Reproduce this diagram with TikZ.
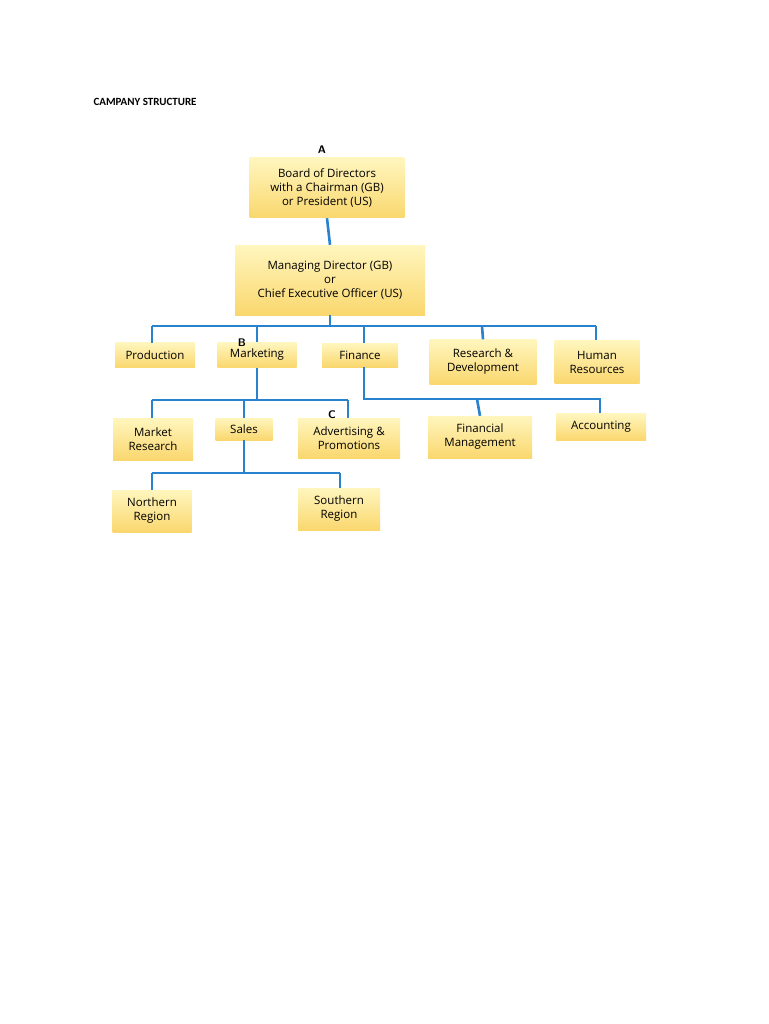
\documentclass[tikz,border=0pt]{standalone}
\usepackage{fontspec}
\setmainfont{Open Sans}
\newfontfamily\titlefont{Carlito}
\definecolor{lineblue}{RGB}{40,130,205}
\definecolor{boxtop}{RGB}{255,246,190}
\definecolor{boxbot}{RGB}{250,215,110}
\begin{document}
\begin{tikzpicture}[x=1pt,y=-1pt,
  box/.style={inner sep=0pt,align=center,font=\fontsize{11.5}{14}\selectfont,
    top color=boxtop,bottom color=boxbot,draw=none},
  link/.style={draw=lineblue,line width=2.6pt},
  lbl/.style={font=\sffamily\bfseries\fontsize{11}{12}\selectfont}]
\useasboundingbox (0,0) rectangle (768,1024);
\fill[white] (0,0) rectangle (768,1024);
\node[anchor=west,font=\titlefont\bfseries\fontsize{11}{13}\selectfont] (title) at (90,102) {CAMPANY STRUCTURE};
\node[box,minimum width=155pt,minimum height=60pt] (bod) at (327,188) {Board of Directors\\with a Chairman (GB)\\or President (US)};
\node[box,minimum width=190pt,minimum height=70pt] (md) at (330,280) {Managing Director (GB)\\or\\Chief Executive Officer (US)};
\node[box,minimum width=80pt,minimum height=25pt] (prod) at (155,355) {Production};
\node[box,minimum width=79pt,minimum height=25pt] (mkt) at (257,355) {Marketing};
\node[box,minimum width=76pt,minimum height=24pt] (fin) at (360,355) {Finance};
\node[box,minimum width=107pt,minimum height=45pt] (rd) at (483,362) {Research \&\\Development};
\node[box,minimum width=85pt,minimum height=43pt] (hr) at (597,362) {Human\\Resources};
\node[box,minimum width=80pt,minimum height=42pt] (mr) at (153,439) {Market\\Research};
\node[box,minimum width=57pt,minimum height=22pt] (sales) at (244,429) {Sales};
\node[box,minimum width=102pt,minimum height=40pt] (adv) at (349,438) {Advertising \&\\Promotions};
\node[box,minimum width=104pt,minimum height=42pt] (fm) at (480,437) {Financial\\Management};
\node[box,minimum width=90pt,minimum height=27pt] (acc) at (601,427) {Accounting};
\node[box,minimum width=79pt,minimum height=42pt] (nr) at (152,511) {Northern\\Region};
\node[box,minimum width=82pt,minimum height=42pt] (sr) at (339,509) {Southern\\Region};
\node[lbl] (la) at (322,150) {A};
\node[lbl] (lb) at (242,343) {B};
\node[lbl] (lc) at (332,415) {C};
\draw[link] (bod.south) -- (md.north);
\coordinate (b1) at (330,326);
\draw[link] (md.south) -- (b1);
\draw[link] (152,326) -- (596,326);
\draw[link] (152,326) -- (152,343);
\draw[link] (257,326) -- (mkt.north);
\draw[link] (364,326) -- (364,343);
\draw[link] (482,326) -- (rd.north);
\draw[link] (596,326) -- (596,340);
\coordinate (b2) at (257,400);
\draw[link] (mkt.south) -- (b2);
\draw[link] (152,400) -- (348,400);
\draw[link] (152,400) -- (152,418);
\draw[link] (244,400) -- (sales.north);
\draw[link] (348,400) -- (348,418);
\draw[link] (364,367) -- (364,399) -- (600,399) -- (600,413);
\draw[link] (477,399) -- (fm.north);
\coordinate (b3) at (244,473);
\draw[link] (sales.south) -- (b3);
\draw[link] (152,473) -- (340,473);
\draw[link] (152,473) -- (nr.north);
\draw[link] (340,473) -- (340,488);
\end{tikzpicture}
\end{document}
